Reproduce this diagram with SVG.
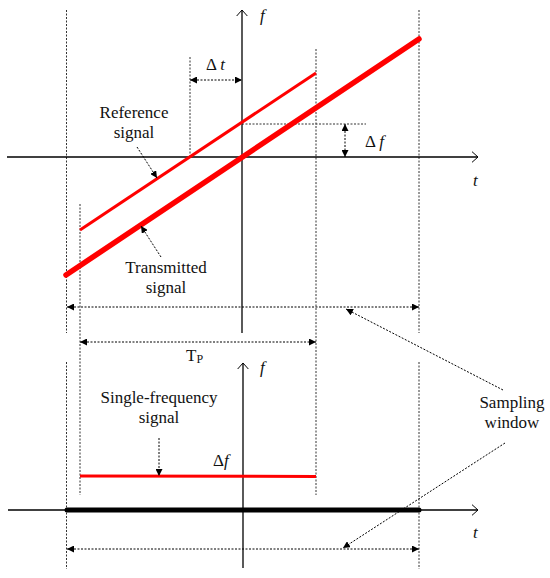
<svg xmlns="http://www.w3.org/2000/svg" width="550" height="578" viewBox="0 0 550 578">
<defs>
<marker id="ah" viewBox="0 0 10 10" refX="10" refY="5" markerWidth="7" markerHeight="7" markerUnits="userSpaceOnUse" orient="auto-start-reverse">
<path d="M0,0 L10,5 L0,10 Z" fill="#000"/>
</marker>
<marker id="open" viewBox="0 0 10 16" refX="9" refY="8" markerWidth="7" markerHeight="12" markerUnits="userSpaceOnUse" orient="auto">
<path d="M0,0 L9,8 L0,16" fill="none" stroke="#000" stroke-width="1.4"/>
</marker>
</defs>
<style>
.ax{stroke:#000;stroke-width:1.3;fill:none}
.dot{stroke:#333;stroke-width:1;stroke-dasharray:2,1.5;fill:none}
.dim{stroke:#000;stroke-width:1;stroke-dasharray:2,1.5;fill:none}
.lbl{font-family:"Liberation Serif","Times New Roman",serif;font-size:17px;fill:#111}
.it{font-style:italic}
</style>
<rect width="550" height="578" fill="#fff"/>

<g id="grid">
<line class="dot" x1="66.5" y1="10" x2="66.5" y2="333"/>
<line class="dot" x1="419" y1="10" x2="419" y2="333"/>
<line class="dot" x1="316" y1="49" x2="316" y2="495"/>
<line class="dot" x1="80" y1="204" x2="80" y2="495"/>
<line class="dot" x1="190" y1="57" x2="190" y2="157"/>
<line class="dot" x1="66.5" y1="362" x2="66.5" y2="569"/>
<line class="dot" x1="419" y1="362" x2="419" y2="569"/>
<line class="dot" x1="242" y1="124" x2="366" y2="124"/>
</g>

<g id="top-axes">
<line class="ax" x1="7" y1="157" x2="478" y2="157" marker-end="url(#open)"/>
<line class="ax" x1="242" y1="333" x2="242" y2="10" marker-end="url(#open)"/>
<text class="lbl it" x="260" y="21">f</text>
<text class="lbl it" x="473" y="186">t</text>
</g>

<g id="reference-signal">
<line x1="80" y1="230" x2="316" y2="73" stroke="#f00" stroke-width="3"/>
</g>
<g id="transmitted-signal">
<line x1="66" y1="275" x2="419" y2="39" stroke="#f00" stroke-width="5.5" stroke-linecap="round"/>
</g>

<g id="bottom-axes">
<line class="ax" x1="8" y1="510" x2="478" y2="510" marker-end="url(#open)"/>
<line class="ax" x1="243" y1="568" x2="243" y2="363" marker-end="url(#open)"/>
<line x1="67" y1="510" x2="419" y2="510" stroke="#000" stroke-width="5" stroke-linecap="round"/>
<text class="lbl it" x="260" y="373">f</text>
<text class="lbl it" x="473" y="538">t</text>
</g>

<g id="single-frequency-signal">
<line x1="80" y1="476" x2="316" y2="476.5" stroke="#f00" stroke-width="3"/>
</g>

<g id="connectors">
<line class="dim" x1="190" y1="80" x2="242" y2="80" marker-start="url(#ah)" marker-end="url(#ah)"/>
<line class="dim" x1="345" y1="124" x2="345" y2="157" marker-start="url(#ah)" marker-end="url(#ah)"/>
<line class="dim" x1="137" y1="147" x2="157" y2="178" marker-end="url(#ah)"/>
<line class="dim" x1="161" y1="257" x2="141" y2="226" marker-end="url(#ah)"/>
<line class="dim" x1="67" y1="307" x2="419" y2="307" marker-start="url(#ah)" marker-end="url(#ah)"/>
<line class="dim" x1="80" y1="342" x2="316" y2="342" marker-start="url(#ah)" marker-end="url(#ah)"/>
<line class="dim" x1="503" y1="390" x2="346" y2="309" marker-end="url(#ah)"/>
<line class="dim" x1="505" y1="443" x2="343" y2="548" marker-end="url(#ah)"/>
<line class="dim" x1="159" y1="438" x2="159" y2="476" marker-end="url(#ah)"/>
<line class="dim" x1="67" y1="549" x2="419" y2="549" marker-start="url(#ah)" marker-end="url(#ah)"/>
</g>

<g id="labels">
<text class="lbl" x="206" y="70">Δ <tspan class="it">t</tspan></text>
<text class="lbl" x="365" y="147">Δ <tspan class="it">f</tspan></text>
<text class="lbl" x="213" y="466">Δ<tspan class="it">f</tspan></text>
<text class="lbl" x="186" y="361">T<tspan font-size="12" dy="2">P</tspan></text>
<text class="lbl" text-anchor="middle" x="134" y="118">Reference</text>
<text class="lbl" text-anchor="middle" x="134" y="138">signal</text>
<text class="lbl" text-anchor="middle" x="166" y="273">Transmitted</text>
<text class="lbl" text-anchor="middle" x="166" y="293">signal</text>
<text class="lbl" text-anchor="middle" x="159" y="403">Single-frequency</text>
<text class="lbl" text-anchor="middle" x="159" y="423">signal</text>
<text class="lbl" text-anchor="middle" x="512" y="408">Sampling</text>
<text class="lbl" text-anchor="middle" x="512" y="428">window</text>
</g>
</svg>
